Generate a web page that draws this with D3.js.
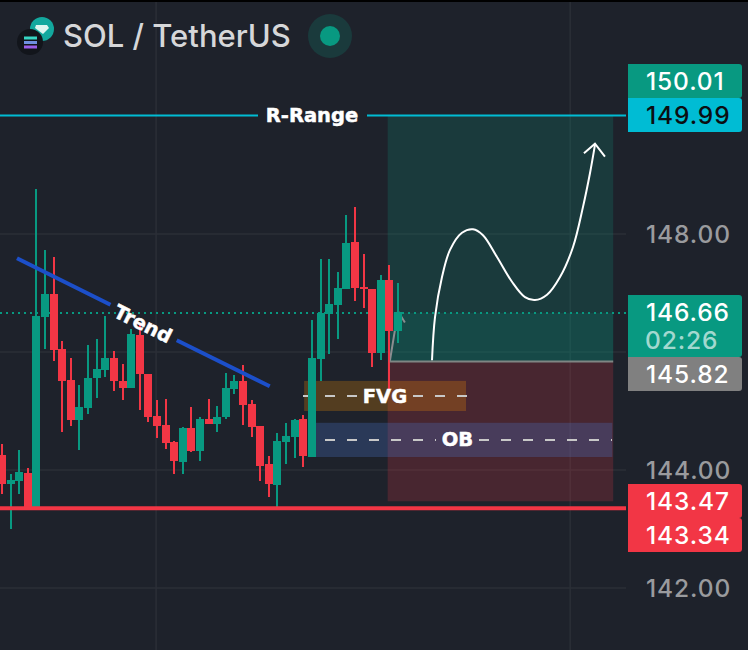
<!DOCTYPE html>
<meta charset="utf-8">
<style>
html, body { margin: 0; padding: 0; background: #1e222b; }
svg { display: block; }
text { font-family: Inter, "Noto Sans", sans-serif; }
.tag { font-size: 24.5px; font-weight: 500; letter-spacing: 0.9px; }
.note { font-family: "DejaVu Sans", sans-serif; font-weight: 700; fill: #fff; stroke: #fff; stroke-width: 0.5px; font-size: 19.5px; }
</style>
<svg width="748" height="650"></svg>
<script src="https://d3js.org/d3.v7.min.js"></script>
<script>

// candles
var opens  = [144.25,143.76,143.81,143.95,143.37,146.59,146.98,146.05,145.53,144.85,145.05,145.56,145.69,145.90,145.51,145.39,146.29,145.63,144.92,144.76,144.47,144.14,144.71,144.32,144.86,144.78,144.90,145.37,145.51,145.12,144.75,144.10,143.75,144.47,144.56,144.86,144.22,145.88,146.64,146.80,147.07,147.86,147.10,147.07,145.98,147.22,146.36];
var highs  = [144.44,143.93,144.34,144.03,148.76,147.73,147.61,146.19,145.90,145.44,146.12,146.22,146.61,146.02,145.80,146.39,146.47,145.63,145.19,145.20,144.49,144.73,145.07,144.90,145.20,145.08,145.64,145.61,145.78,145.19,144.75,144.24,144.63,144.80,144.86,144.93,146.54,147.58,147.58,147.36,148.32,148.46,147.66,147.07,147.31,147.47,147.17];
var lows   = [143.59,143.00,143.59,143.37,143.37,146.05,145.85,144.64,144.75,144.34,144.95,145.22,145.58,145.34,145.19,145.39,145.02,144.81,144.54,144.36,143.93,143.93,144.31,144.15,144.78,144.64,144.86,145.29,144.76,144.56,143.81,143.54,143.37,144.10,144.20,144.05,144.22,145.51,145.97,146.22,147.07,146.86,146.75,145.75,145.86,145.36,146.15];
var closes = [143.76,143.83,143.97,143.37,146.61,146.98,146.03,145.51,144.85,145.07,145.56,145.71,145.90,145.51,145.39,146.31,145.63,144.90,144.75,144.46,144.14,144.71,144.32,144.86,144.78,144.90,145.39,145.51,145.10,144.73,144.07,143.76,144.49,144.58,144.85,144.24,145.90,146.66,146.81,147.08,147.85,147.08,147.07,145.98,147.22,146.36,146.68];

var priceTicks = [148, 146, 144, 142];
var axisLabels = ["148.00", null, "144.00", "142.00"];
var timeGrid = [17.9, 66];

var lastPrice = 146.66, rangePrice = 150.01, entryPrice = 145.84, stopPrice = 143.47, supportPrice = 143.35;
var tradeStart = 44.8, tradeEnd = 71;

var fvgBox = [35.1, 53.9, 145.51, 145.0];
var obBox  = [36.0, 70.9, 144.80, 144.22];

var trendIdx = [1.74, 12.6, 20.3, 31.1];
var trendPrice = [147.59, 146.80, 146.20, 145.42];

var curveIdx = [49.95, 50.30, 51.11, 52.04, 53.43, 54.71, 55.87, 57.50, 59.24, 60.75, 61.91, 63.31, 64.82, 66.33, 67.49, 68.30, 68.88];
var curvePrice = [145.86, 146.59, 147.27, 147.73, 148.02, 148.08, 147.98, 147.61, 147.19, 146.93, 146.88, 146.97, 147.27, 147.78, 148.46, 149.03, 149.51];
var headIdx = [67.60, 68.88, 70.04];
var headPrice = [149.37, 149.53, 149.31];

var ghostIdx = [45.05, 46.0, 46.8];
var ghostPrice = [145.84, 146.69, 146.50];

var tagLabels = ["150.01", "149.99", "146.66", "145.82", "143.47", "143.34"];

var up = "#089981", down = "#f23645", gridCol = "#2b2f37";

var svg = d3.select("svg"), width = 748, height = 650;

var x = d3.scaleLinear().domain([0, 46]).range([2, 398]);
var y = d3.scaleLinear().domain([142, 148]).range([588, 234]);

svg.append("rect").attr("width", width).attr("height", height).attr("fill", "#1e222b");
svg.append("rect").attr("width", width).attr("height", 2).attr("fill", "#000");

// grid
svg.selectAll(".hgrid").data(priceTicks).enter().append("line")
  .attr("x1", 0).attr("x2", 626).attr("y1", d => y(d)).attr("y2", d => y(d))
  .attr("stroke", gridCol).attr("stroke-width", 1.5);
svg.selectAll(".vgrid").data(timeGrid).enter().append("line")
  .attr("x1", d => x(d)).attr("x2", d => x(d)).attr("y1", 2).attr("y2", height)
  .attr("stroke", gridCol).attr("stroke-width", 1.5);

// boxes under the candles
svg.append("rect").attr("x", x(tradeStart)).attr("width", x(tradeEnd) - x(tradeStart))
  .attr("y", y(rangePrice)).attr("height", y(entryPrice) - y(rangePrice))
  .attr("fill", up).attr("fill-opacity", 0.2);
svg.append("rect").attr("x", x(tradeStart)).attr("width", x(tradeEnd) - x(tradeStart))
  .attr("y", y(lastPrice)).attr("height", y(entryPrice) - y(lastPrice))
  .attr("fill", up).attr("fill-opacity", 0.16);
svg.append("rect").attr("x", x(tradeStart)).attr("width", x(tradeEnd) - x(tradeStart))
  .attr("y", y(entryPrice)).attr("height", y(stopPrice) - y(entryPrice))
  .attr("fill", down).attr("fill-opacity", 0.2);

function box(b, col, op, dashes) {
  svg.append("rect").attr("x", x(b[0])).attr("width", x(b[1]) - x(b[0]))
    .attr("y", y(b[2])).attr("height", y(b[3]) - y(b[2]))
    .attr("fill", col).attr("fill-opacity", op);
  var m = (b[2] + b[3]) / 2;
  dashes.forEach(function(s) {
    svg.append("line").attr("x1", s[0]).attr("x2", s[1]).attr("y1", y(m)).attr("y2", y(m))
      .attr("stroke", "#c8c8c8").attr("stroke-width", 2).attr("stroke-dasharray", "10 12");
  });
}
box(fvgBox, "#ff9800", 0.24, [[303, 358], [413, 468]]);
box(obBox, "#4a6fc0", 0.3, [[325, 436], [479, 612]]);

// faint arrow left behind the candles
var straight = d3.line().x(d => x(d[0])).y(d => y(d[1]));
svg.append("path").attr("d", straight(d3.zip(ghostIdx, ghostPrice)))
  .attr("fill", "none").attr("stroke", "#8a8d90").attr("stroke-width", 2);

// last price line
svg.append("line").attr("x1", 0).attr("x2", 626).attr("y1", y(lastPrice)).attr("y2", y(lastPrice))
  .attr("stroke", up).attr("stroke-width", 2).attr("stroke-dasharray", "2 4");

// candles
var idx = d3.range(opens.length);
svg.selectAll(".wick").data(idx).enter().append("rect")
  .attr("x", i => Math.round(x(i)) - 1).attr("width", 2)
  .attr("y", i => Math.round(y(highs[i])))
  .attr("height", i => Math.round(y(lows[i])) - Math.round(y(highs[i])))
  .attr("fill", i => closes[i] >= opens[i] ? up : down);
svg.selectAll(".body").data(idx).enter().append("rect")
  .attr("x", i => Math.round(x(i)) - 4).attr("width", 8)
  .attr("y", i => Math.round(y(Math.max(opens[i], closes[i]))))
  .attr("height", i => Math.max(2, Math.round(Math.abs(y(opens[i]) - y(closes[i])))))
  .attr("fill", i => closes[i] >= opens[i] ? up : down);

// entry line
svg.append("line").attr("x1", x(tradeStart) + 2).attr("x2", x(tradeEnd)).attr("y1", y(entryPrice)).attr("y2", y(entryPrice))
  .attr("stroke", "#7f8583").attr("stroke-width", 2);

// support line and range line
svg.append("line").attr("x1", 0).attr("x2", 626).attr("y1", y(supportPrice)).attr("y2", y(supportPrice))
  .attr("stroke", down).attr("stroke-width", 4);
[[0, 258], [367, 626]].forEach(function(s) {
  svg.append("line").attr("x1", s[0]).attr("x2", s[1]).attr("y1", y(rangePrice)).attr("y2", y(rangePrice))
    .attr("stroke", "#00bcd4").attr("stroke-width", 2);
});

// trend line, broken for its label
[[0, 1], [2, 3]].forEach(function(s) {
  svg.append("line")
    .attr("x1", x(trendIdx[s[0]])).attr("y1", y(trendPrice[s[0]]))
    .attr("x2", x(trendIdx[s[1]])).attr("y2", y(trendPrice[s[1]]))
    .attr("stroke", "#1c4fc9").attr("stroke-width", 4);
});
svg.append("text").attr("class", "note").attr("text-anchor", "middle")
  .attr("transform", "translate(140,330) rotate(26.5)").text("Trend");

// box labels
svg.append("text").attr("class", "note").attr("x", 385).attr("y", 403).attr("text-anchor", "middle").text("FVG");
svg.append("text").attr("class", "note").attr("x", 457.5).attr("y", 446).attr("text-anchor", "middle").text("OB");
svg.append("text").attr("class", "note").attr("x", 312).attr("y", 122).attr("text-anchor", "middle").text("R-Range");

// hand drawn path
svg.append("path").attr("d", d3.line().x(d => x(d[0])).y(d => y(d[1])).curve(d3.curveCatmullRom)(d3.zip(curveIdx, curvePrice)))
  .attr("fill", "none").attr("stroke", "#fff").attr("stroke-width", 2);
svg.append("path").attr("d", straight(d3.zip(headIdx, headPrice)))
  .attr("fill", "none").attr("stroke", "#fff").attr("stroke-width", 2);

// axis labels
svg.selectAll(".axislabel").data(priceTicks).enter().append("text")
  .attr("class", "tag").attr("x", 646).attr("y", d => y(d) + 9)
  .attr("fill", "#9a9b9e").text((d, i) => axisLabels[i]);

// price tags
function tag(y0, h, col, label, labelCol) {
  svg.append("path")
    .attr("d", "M628," + y0 + "H739q3,0 3,3V" + (y0 + h - 3) + "q0,3 -3,3H628Z")
    .attr("fill", col);
  svg.append("text").attr("class", "tag").attr("x", 646).attr("y", y0 + 26)
    .attr("fill", labelCol).text(label);
}
tag(64, 34, "#089981", tagLabels[0], "#fff");
tag(98, 34, "#00bcd4", tagLabels[1], "#0b0e12");
tag(295, 62, "#089981", tagLabels[2], "#fff");
svg.append("text").attr("class", "tag").attr("x", 645).attr("y", 349)
  .attr("fill", "#fff").attr("fill-opacity", 0.65).text("02:26");
tag(357, 34, "#808080", tagLabels[3], "#fff");
tag(484, 34, down, tagLabels[4], "#fff");
tag(518, 34, down, tagLabels[5], "#fff");

// header
svg.append("circle").attr("cx", 42).attr("cy", 29).attr("r", 12).attr("fill", "#13a89e");
svg.append("path").attr("d", "M36,25 h11 l2,3 -6,6 -8,-6z").attr("fill", "#dff5f0");
svg.append("circle").attr("cx", 30).attr("cy", 42).attr("r", 13).attr("fill", "#12151b");
["#36d6c3", "#6f8fe0", "#9a5de8"].forEach(function(c, i) {
  svg.append("rect").attr("x", 24).attr("y", 36.5 + i * 4.5).attr("width", 13).attr("height", 3).attr("fill", c);
});
svg.append("text").attr("x", 63).attr("y", 47).attr("font-size", 31).attr("font-weight", 500).attr("fill", "#d6d7d9").text("SOL / TetherUS");
svg.append("circle").attr("cx", 330).attr("cy", 36).attr("r", 22).attr("fill", "#089981").attr("fill-opacity", 0.2);
svg.append("circle").attr("cx", 330).attr("cy", 36).attr("r", 10).attr("fill", "#089981");

</script>
